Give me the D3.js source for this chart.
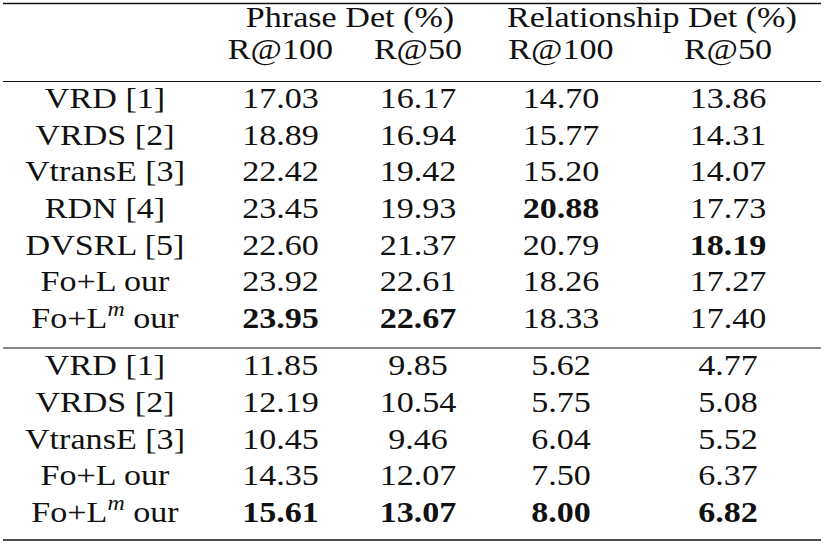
<!DOCTYPE html>
<html>
<head>
<meta charset="utf-8">
<script src="https://cdn.jsdelivr.net/npm/d3@7"></script>
<style>
body { margin: 0; background: #fff; }
text.cell { font-family: "Liberation Serif", "Times New Roman", Times, serif; }
</style>
</head>
<body>
<div id="table"></div>
<script>
// table values
var group_labels = ["Phrase Det (%)", "Relationship Det (%)"];
var metric_labels = ["R@100", "R@50", "R@100", "R@50"];

var methods_a = ["VRD [1]", "VRDS [2]", "VtransE [3]", "RDN [4]", "DVSRL [5]", "Fo+L our", "Fo+L^m our"];
var phrase_r100_a = [17.03, 18.89, 22.42, 23.45, 22.60, 23.92, 23.95];
var phrase_r50_a = [16.17, 16.94, 19.42, 19.93, 21.37, 22.61, 22.67];
var rel_r100_a = [14.70, 15.77, 15.20, 20.88, 20.79, 18.26, 18.33];
var rel_r50_a = [13.86, 14.31, 14.07, 17.73, 18.19, 17.27, 17.40];

var methods_b = ["VRD [1]", "VRDS [2]", "VtransE [3]", "Fo+L our", "Fo+L^m our"];
var phrase_r100_b = [11.85, 12.19, 10.45, 14.35, 15.61];
var phrase_r50_b = [9.85, 10.54, 9.46, 12.07, 13.07];
var rel_r100_b = [5.62, 5.75, 6.04, 7.50, 8.00];
var rel_r50_b = [4.77, 5.08, 5.52, 6.37, 6.82];

// SVG properties
var table_width = 825;
var table_height = 544;
var font_size = 30;
var stretch_x = 1.137; // glyphs in the picture are a bit wider than tall
var svg = d3.select("#table")
            .append("svg")
            .attr("width", table_width)
            .attr("height", table_height);

var col_keys = ["method", "p100", "p50", "r100", "r50"];
var scale_col = d3.scaleOrdinal()
            .domain(col_keys)
            .range([105, 280.5, 418, 561, 728]);
var scale_group = d3.scaleOrdinal()
            .domain(group_labels)
            .range([350, 652]);
var scale_y_a = d3.scaleLinear()
            .domain([0, methods_a.length - 1])
            .range([108, 328]);
var scale_y_b = d3.scaleLinear()
            .domain([0, methods_b.length - 1])
            .range([375, 522]);
var fmt = d3.format(".2f");

// build cells for one block of rows
function block_cells(methods, cols, scale_y) {
    var cells = [];
    var maxes = cols.map(function(c){ return d3.max(c); });
    methods.forEach(function(m, i){
        cells.push({ x: scale_col("method"), y: scale_y(i), label: m, bold: false });
        cols.forEach(function(c, j){
            cells.push({
                x: scale_col(col_keys[j + 1]),
                y: scale_y(i),
                label: fmt(c[i]),
                bold: c[i] === maxes[j] // best of the block in bold
            });
        });
    });
    return cells;
}

var cells = block_cells(methods_a, [phrase_r100_a, phrase_r50_a, rel_r100_a, rel_r50_a], scale_y_a)
    .concat(block_cells(methods_b, [phrase_r100_b, phrase_r50_b, rel_r100_b, rel_r50_b], scale_y_b));

group_labels.forEach(function(g){
    cells.push({ x: scale_group(g), y: 27, label: g, bold: false });
});
metric_labels.forEach(function(m, j){
    cells.push({ x: scale_col(col_keys[j + 1]), y: 58.5, label: m, bold: false });
});

var texts = svg.selectAll("text.cell")
    .data(cells)
    .enter()
    .append("text")
    .attr("class", "cell")
    .attr("transform", function(d){
        return "translate(" + d.x + "," + d.y + ") scale(" + stretch_x + ",1)";
    })
    .attr("text-anchor", "middle")
    .attr("font-size", font_size)
    .attr("font-weight", function(d){ return d.bold ? "bold" : "normal"; })
    .attr("fill", "#111");

// labels with a superscript, e.g. Fo+L^m our
texts.each(function(d){
    var t = d3.select(this);
    var parts = d.label.split("^");
    if (parts.length === 1) {
        t.text(d.label);
        return;
    }
    var sup = parts[1].charAt(0);
    var rest = parts[1].slice(1);
    t.append("tspan").text(parts[0]);
    t.append("tspan")
        .attr("dy", -12)
        .attr("font-size", 21)
        .attr("font-style", "italic")
        .text(sup);
    t.append("tspan")
        .attr("dy", 12)
        .text(rest);
});

// horizontal rules
var rules = [
    { y: 3.5, w: 1.6 },
    { y: 81.5, w: 1.2 },
    { y: 348, w: 1.2 },
    { y: 540, w: 1.6 }
];
svg.selectAll("line.rule")
    .data(rules)
    .enter()
    .append("line")
    .attr("class", "rule")
    .attr("x1", 3)
    .attr("x2", 821)
    .attr("y1", function(d){ return d.y; })
    .attr("y2", function(d){ return d.y; })
    .attr("stroke", "#111")
    .attr("stroke-width", function(d){ return d.w; });
</script>
</body>
</html>
